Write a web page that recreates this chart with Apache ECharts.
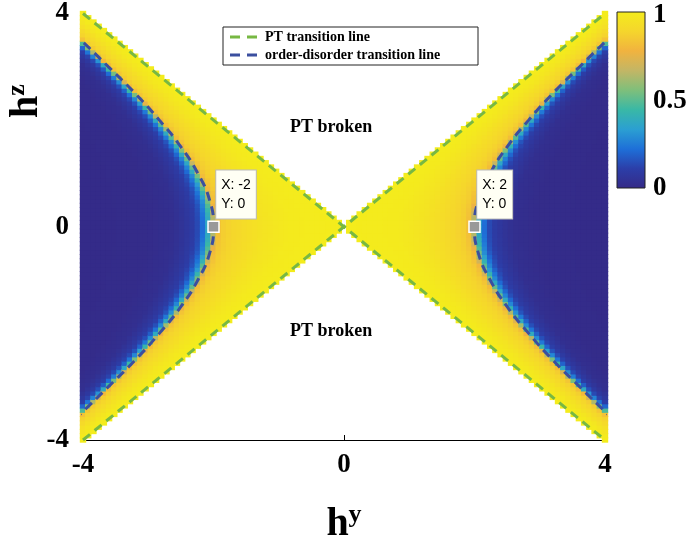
<!DOCTYPE html><html><head><meta charset="utf-8"><script src="https://cdn.jsdelivr.net/npm/echarts@6/dist/echarts.min.js"></script></head><body style="margin:0"><div id="c" style="width:700px;height:552px"></div><script>
// radial profile of the order parameter versus r = sqrt(hy^2-hz^2), read from hz=0 cut
const profR = [0, 0.8, 1.2, 1.5, 1.7, 1.85, 1.95, 2.0, 2.05, 2.1, 2.2, 2.3, 2.45, 2.6, 3.0, 6];
const profV = [1, 0.99, 0.96, 0.92, 0.89, 0.86, 0.8, 0.62, 0.45, 0.3, 0.16, 0.1, 0.06, 0.03, 0.01, 0];
const gridTicks = 101; // grid -4..4 step 0.08
const ptLineA = [[-4, 4], [0, 0], [4, -4]];
const ptLineB = [[-4, -4], [0, 0], [4, 4]];
const odHz = [-4.0, -3.5, -3.0, -2.5, -2.0, -1.5, -1.0, -0.5, 0, 0.5, 1.0, 1.5, 2.0, 2.5, 3.0, 3.5, 4.0];
const odHy = [4.47, 4.03, 3.61, 3.20, 2.83, 2.50, 2.24, 2.06, 2.0, 2.06, 2.24, 2.5, 2.83, 3.20, 3.61, 4.03, 4.47];
const tips = [[-2, 0], [2, 0]];
const legendNames = ['PT transition line', 'order-disorder transition line'];
const parula = ['#352a87', '#2c3ea8', '#1e6fd8', '#2b9fd2', '#39b8a6', '#7fbf7b', '#c3b665', '#f1b33f', '#f5d62c', '#f4ec1c'];
const GREEN = '#77b843', BLUE = '#3b4f9f';

function prof(r) { for (let i = 1; i < profR.length; i++) if (r <= profR[i]) { const t = (r - profR[i-1]) / (profR[i] - profR[i-1]); return profV[i-1] + t * (profV[i] - profV[i-1]); } return 0; }
const cells = [];
for (let i = 0; i < gridTicks; i++) for (let j = 0; j < gridTicks; j++) {
  const x = -4 + i * 0.08, y = -4 + j * 0.08;
  if (Math.abs(y) <= Math.abs(x) + 1e-9 && Math.abs(x) > 0.01) cells.push([x, y, prof(Math.sqrt(Math.max(0, x*x - y*y)))]);
}
const odL = odHz.map((z, i) => [-odHy[i], z]), odR = odHz.map((z, i) => [odHy[i], z]);
const serif = 'Liberation Serif';
const ch = echarts.init(document.getElementById('c'));
const dash = (c) => ({type: 'line', smooth: true, symbol: 'none', lineStyle: {color: c, width: 3, type: [9, 6]}, z: 5});
const legLine = (y, c) => ({type: 'line', shape: {x1: 230, y1: y, x2: 262, y2: y}, style: {stroke: c, lineWidth: 3, lineDash: [10, 7]}, z: 20});
const legText = (y, t) => ({type: 'text', x: 265, y: y, style: {text: t, font: 'bold 14px "Liberation Serif"', fill: '#000', textVerticalAlign: 'middle'}, z: 20});
ch.setOption({
  animation: false,
  grid: {left: 83, right: 95, top: 12, bottom: 112},
  xAxis: {type: 'value', min: -4, max: 4, interval: 4, splitLine: {show: false},
    axisLine: {onZero: false, lineStyle: {color: '#000'}}, axisTick: {inside: true, length: 5, lineStyle: {color: '#000'}},
    axisLabel: {fontFamily: serif, fontWeight: 'bold', fontSize: 27, color: '#000', margin: 12},
    name: '{b|h}{s|y}', nameLocation: 'middle', nameGap: 62,
    nameTextStyle: {rich: {b: {fontFamily: serif, fontWeight: 'bold', fontSize: 40, color: '#000'}, s: {fontFamily: serif, fontWeight: 'bold', fontSize: 26, color: '#000', verticalAlign: 'top', padding: [0, 0, 20, 0]}}}},
  yAxis: {type: 'value', min: -4, max: 4, interval: 4, splitLine: {show: false},
    axisLine: {show: false}, axisTick: {show: false},
    axisLabel: {fontFamily: serif, fontWeight: 'bold', fontSize: 27, color: '#000', margin: 14}},
  visualMap: {show: false, min: 0, max: 1, dimension: 2, seriesIndex: 0, inRange: {color: parula}},
  graphic: [
    {type: 'rect', shape: {x: 223, y: 27, width: 255, height: 38}, style: {fill: '#fff', stroke: '#222', lineWidth: 1}, z: 19},
    legLine(37, GREEN), legText(37, legendNames[0]), legLine(55, BLUE), legText(55, legendNames[1]),
    {type: 'rect', shape: {x: 617, y: 12, width: 28, height: 176}, style: {stroke: '#222', lineWidth: 1,
      fill: new echarts.graphic.LinearGradient(0, 1, 0, 0, parula.map((c, i) => ({offset: i / (parula.length - 1), color: c})))}},
    {type: 'text', left: 653, top: 2, style: {text: '1', font: 'bold 27px "Liberation Serif"', fill: '#000'}},
    {type: 'text', left: 653, top: 88, style: {text: '0.5', font: 'bold 27px "Liberation Serif"', fill: '#000'}},
    {type: 'text', left: 653, top: 175, style: {text: '0', font: 'bold 27px "Liberation Serif"', fill: '#000'}},
    {type: 'text', left: 290, top: 118, style: {text: 'PT broken', font: 'bold 18px "Liberation Serif"', fill: '#000'}},
    {type: 'text', left: 290, top: 322, style: {text: 'PT broken', font: 'bold 18px "Liberation Serif"', fill: '#000'}},
    {type: 'text', x: 4, y: 118, rotation: Math.PI / 2, style: {rich: {b: {font: 'bold 40px "Liberation Serif"', fill: '#000'}, s: {font: 'bold 26px "Liberation Serif"', fill: '#000', padding: [0, 0, 20, 0]}}, text: '{b|h}{s|z}'}}
  ],
  series: [
    {type: 'scatter', data: cells, symbol: 'rect', symbolSize: [6.4, 5.4], silent: true, z: 1, itemStyle: {opacity: 1}},
    Object.assign(dash(GREEN), {data: ptLineA, smooth: false}),
    Object.assign(dash(GREEN), {data: ptLineB, smooth: false}),
    Object.assign(dash(BLUE), {data: odL}),
    Object.assign(dash(BLUE), {data: odR}),
    {type: 'scatter', data: tips, symbol: 'rect', symbolSize: 11, z: 10,
      itemStyle: {color: '#999', borderColor: '#fff', borderWidth: 1.5, opacity: 1},
      label: {show: true, position: [9, -50], formatter: (p) => 'X: ' + p.value[0] + '\nY: ' + p.value[1],
        backgroundColor: '#fffff4', borderColor: '#bbb', borderWidth: 1, padding: [5, 5], lineHeight: 19,
        fontFamily: 'Liberation Sans', fontSize: 14, color: '#000'}}
  ]
});
</script></body></html>
